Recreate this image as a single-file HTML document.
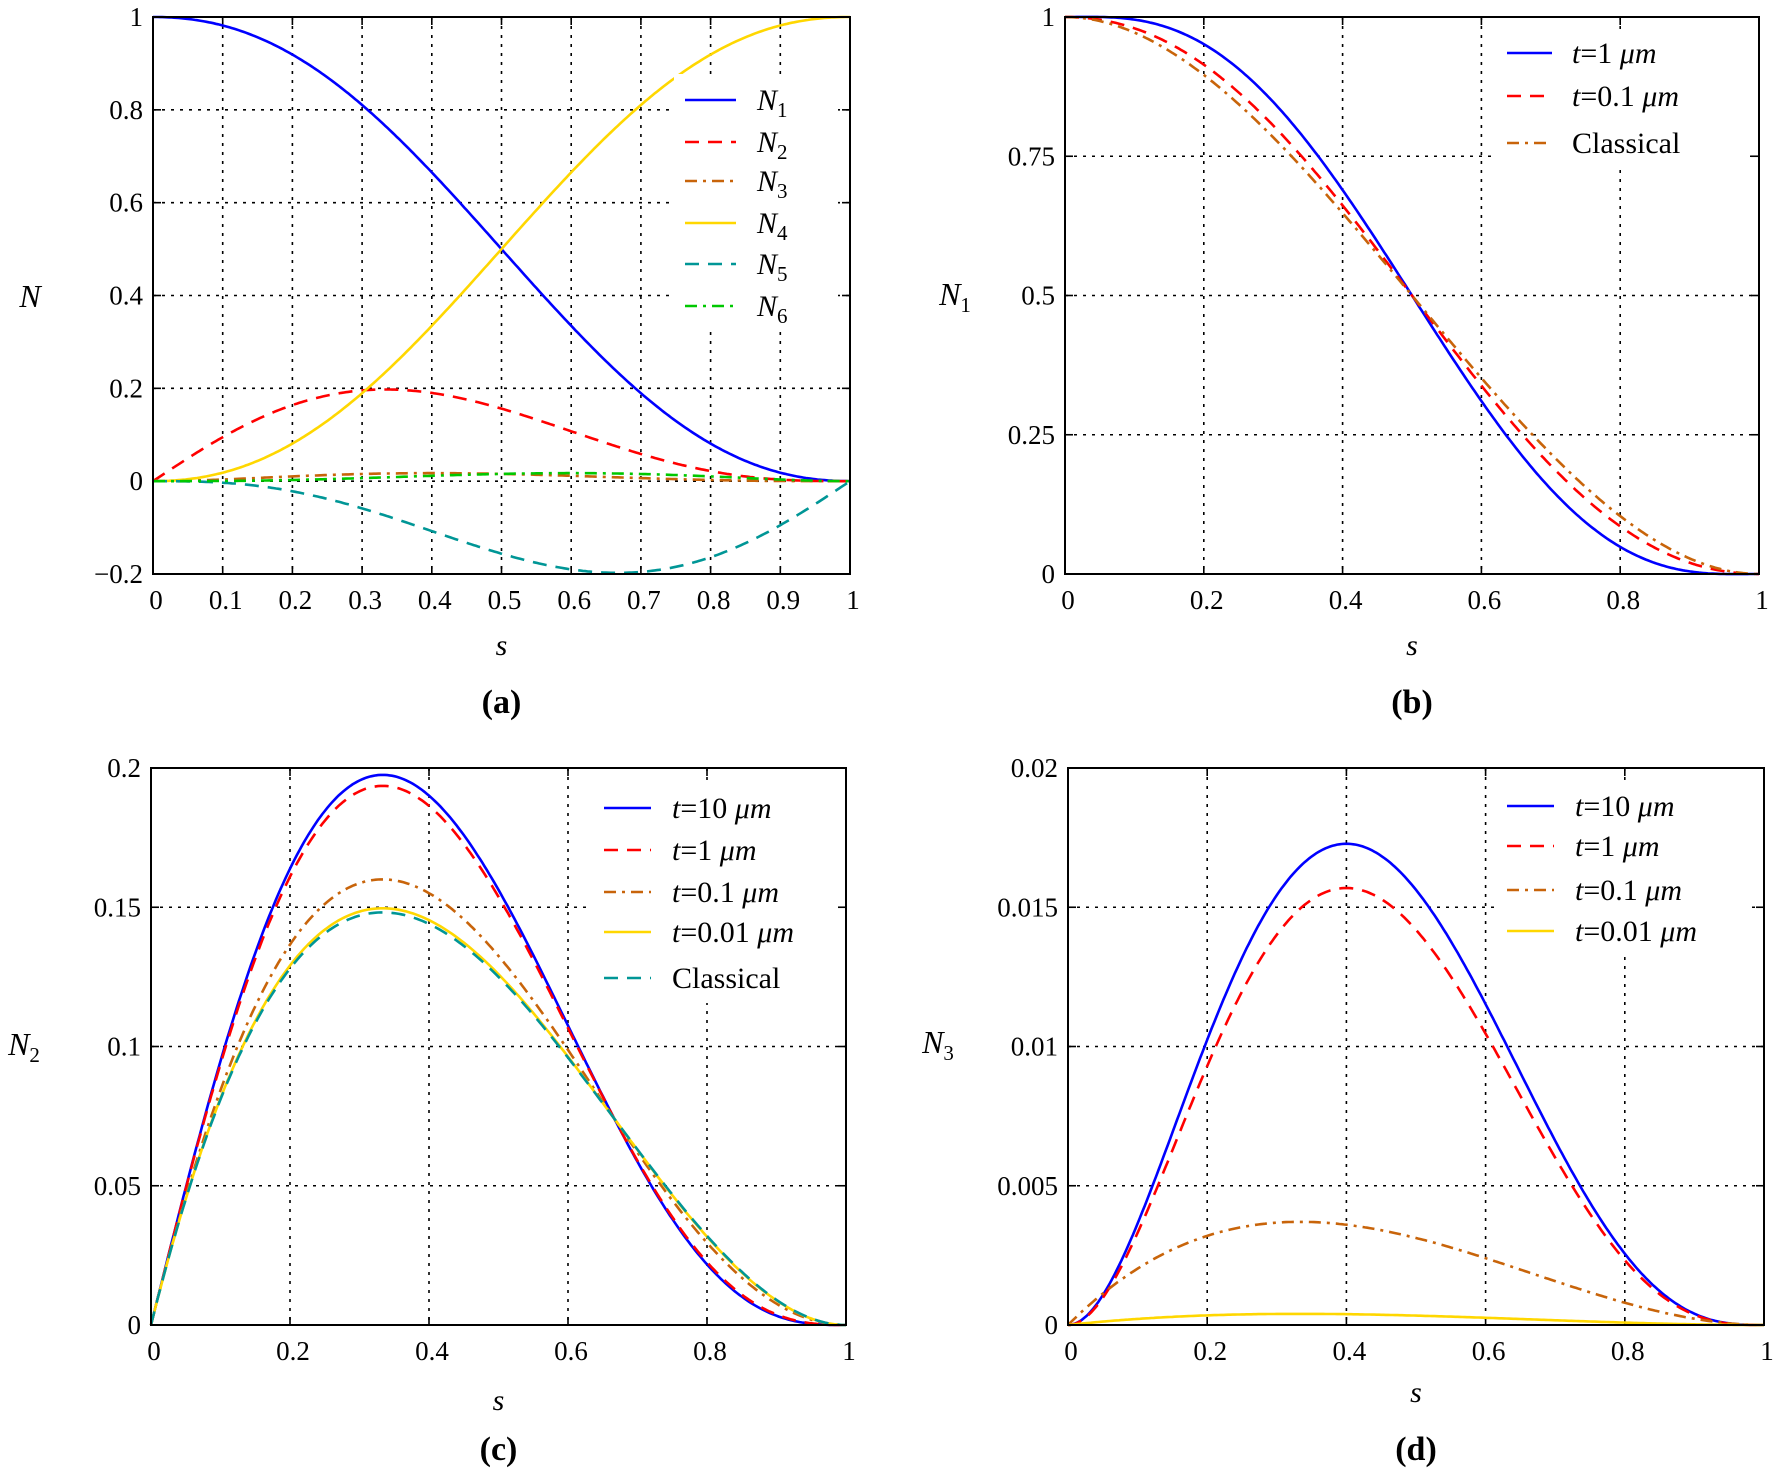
<!DOCTYPE html>
<html><head><meta charset="utf-8"><style>
html,body{margin:0;padding:0;background:#fff}
svg{display:block}
text{font-family:"Liberation Serif","DejaVu Serif",serif;fill:#000}
</style></head><body>
<svg id="s" width="1773" height="1470" xmlns="http://www.w3.org/2000/svg"></svg>
<script>
const S=document.getElementById('s');let out='';
const FF='font-family="Liberation Serif, DejaVu Serif, serif"';
function N1(s,a){return 1-3*s*s+2*s*s*s + a*s*s*(1-s)*(1-s)*(1-2*s);}
function N2(s,b){return s*(1-s)*(1-s) + b*s*s*(1-s)*(1-s)*(2-3*s);}
const C={blue:'#0000ff',red:'#ff0000',brown:'#c8640a',yel:'#ffd700',teal:'#009696',green:'#00c800'};
const DASH={solid:'',dash:'14,9',dd:'12,6,3,6'};
function panel(p){
 const {x0,x1,y0,y1,ymin,ymax}=p;
 const X=s=>x0+(x1-x0)*s, Y=v=>y1-(y1-y0)*(v-ymin)/(ymax-ymin);
 p.xt.forEach(t=>{const x=X(t);if(t>0&&t<1)out+=`<line x1="${x}" y1="${y0}" x2="${x}" y2="${y1}" stroke="#000" stroke-width="1.6" stroke-dasharray="3,6"/>`;
   out+=`<line x1="${x}" y1="${y1}" x2="${x}" y2="${y1-8}" stroke="#000" stroke-width="1.6"/><line x1="${x}" y1="${y0}" x2="${x}" y2="${y0+8}" stroke="#000" stroke-width="1.6"/>`;
   out+=`<text ${FF} x="${x+3}" y="${y1+35}" font-size="27" text-anchor="middle">${t}</text>`;});
 p.yt.forEach(t=>{const y=Y(t);if(Math.abs(t-ymin)>1e-9&&Math.abs(t-ymax)>1e-9)out+=`<line x1="${x0}" y1="${y}" x2="${x1}" y2="${y}" stroke="#000" stroke-width="1.6" stroke-dasharray="3,6"/>`;
   out+=`<line x1="${x0}" y1="${y}" x2="${x0+8}" y2="${y}" stroke="#000" stroke-width="1.6"/><line x1="${x1}" y1="${y}" x2="${x1-8}" y2="${y}" stroke="#000" stroke-width="1.6"/>`;
   out+=`<text ${FF} x="${x0-10}" y="${y+9}" font-size="27" text-anchor="end">${String(t).replace('-','\u2212')}</text>`;});
 p.curves.forEach(c=>{let d='';for(let i=0;i<=300;i++){const s=i/300;d+=(i?'L':'M')+X(s).toFixed(1)+','+Y(c.f(s)).toFixed(1);}
   out+=`<path d="${d}" fill="none" stroke="${C[c.c]}" stroke-width="2.6" stroke-dasharray="${DASH[c.d]}"/>`;});
 const L=p.leg;out+=`<rect x="${L.bx}" y="${L.by}" width="${L.bw}" height="${L.bh}" fill="#fff"/>`;
 p.curves.forEach((c,i)=>{const y=L.ys[i];out+=`<line x1="${L.lx}" y1="${y}" x2="${L.lx+L.lw}" y2="${y}" stroke="${C[c.c]}" stroke-width="2.6" stroke-dasharray="${DASH[c.d]}"/>`;
   out+=`<text ${FF} x="${L.tx}" y="${y+10}" font-size="30">${c.label}</text>`;});
 out+=`<rect x="${x0}" y="${y0}" width="${x1-x0}" height="${y1-y0}" fill="none" stroke="#000" stroke-width="2"/>`;
 out+=`<text ${FF} x="${p.yl[0]}" y="${p.yl[1]}" font-size="32" text-anchor="middle">${p.yl[2]}</text>`;
 out+=`<text ${FF} x="${(x0+x1)/2}" y="${p.sy}" font-size="30" font-style="italic" text-anchor="middle">s</text>`;
 out+=`<text ${FF} x="${(x0+x1)/2}" y="${p.ly}" font-size="34" font-weight="bold" text-anchor="middle">${p.lab}</text>`;
}
const it=(a,b)=>`<tspan font-style="italic">${a}</tspan>${b?`<tspan font-size="21" dy="7">${b}</tspan>`:''}`;
const tl=(v)=>`<tspan font-style="italic">t</tspan>=${v}  <tspan font-style="italic">\u03bcm</tspan>`;
panel({x0:153,x1:850,y0:17,y1:574,ymin:-0.2,ymax:1,xt:[0,.1,.2,.3,.4,.5,.6,.7,.8,.9,1],yt:[-0.2,0,0.2,0.4,0.6,0.8,1],
 curves:[{f:s=>N1(s,1.5),c:'blue',d:'solid',label:it('N','1')},{f:s=>N2(s,1),c:'red',d:'dash',label:it('N','2')},
 {f:s=>0.5*s*s*Math.pow(1-s,3),c:'brown',d:'dd',label:it('N','3')},{f:s=>1-N1(s,1.5),c:'yel',d:'solid',label:it('N','4')},
 {f:s=>-N2(1-s,1),c:'teal',d:'dash',label:it('N','5')},{f:s=>0.5*s*s*s*(1-s)*(1-s),c:'green',d:'dd',label:it('N','6')}],
 leg:{bx:674,by:74,bw:164,bh:255,lx:685,lw:51,tx:757,ys:[100,142,181,223,264,306]},
 yl:[30,307,it('N')],sy:655,ly:713,lab:'(a)'});
panel({x0:1065,x1:1759,y0:17,y1:574,ymin:0,ymax:1,xt:[0,.2,.4,.6,.8,1],yt:[0,0.25,0.5,0.75,1],
 curves:[{f:s=>N1(s,3.6),c:'blue',d:'solid',label:tl('1')},{f:s=>N1(s,1.2),c:'red',d:'dash',label:tl('0.1')},{f:s=>N1(s,0),c:'brown',d:'dd',label:'Classical'}],
 leg:{bx:1495,by:34,bw:255,bh:130,lx:1507,lw:45,tx:1572,ys:[53,96,143]},
 yl:[955,305,it('N','1')],sy:655,ly:713,lab:'(b)'});
panel({x0:151,x1:846,y0:768,y1:1325,ymin:0,ymax:0.2,xt:[0,.2,.4,.6,.8,1],yt:[0,0.05,0.1,0.15,0.2],
 curves:[{f:s=>N2(s,1),c:'blue',d:'solid',label:tl('10')},{f:s=>N2(s,0.92),c:'red',d:'dash',label:tl('1')},{f:s=>N2(s,0.24),c:'brown',d:'dd',label:tl('0.1')},
 {f:s=>N2(s,0.03),c:'yel',d:'solid',label:tl('0.01')},{f:s=>N2(s,0),c:'teal',d:'dash',label:'Classical'}],
 leg:{bx:589,by:782,bw:249,bh:221,lx:604,lw:47,tx:672,ys:[808,850,892,932,978]},
 yl:[24,1055,it('N','2')],sy:1410,ly:1460,lab:'(c)'});
panel({x0:1068,x1:1764,y0:768,y1:1325,ymin:0,ymax:0.02,xt:[0,.2,.4,.6,.8,1],yt:[0,0.005,0.01,0.015,0.02],
 curves:[{f:s=>0.5*s*s*Math.pow(1-s,3),c:'blue',d:'solid',label:tl('10')},{f:s=>0.454*s*s*Math.pow(1-s,3),c:'red',d:'dash',label:tl('1')},
 {f:s=>0.025*s*(1-s)*(1-s),c:'brown',d:'dd',label:tl('0.1')},{f:s=>0.0027*s*(1-s)*(1-s),c:'yel',d:'solid',label:tl('0.01')}],
 leg:{bx:1495,by:782,bw:255,bh:175,lx:1507,lw:47,tx:1575,ys:[806,846,890,931]},
 yl:[938,1053,it('N','3')],sy:1402,ly:1460,lab:'(d)'});
S.innerHTML=out;
</script>
</body></html>
